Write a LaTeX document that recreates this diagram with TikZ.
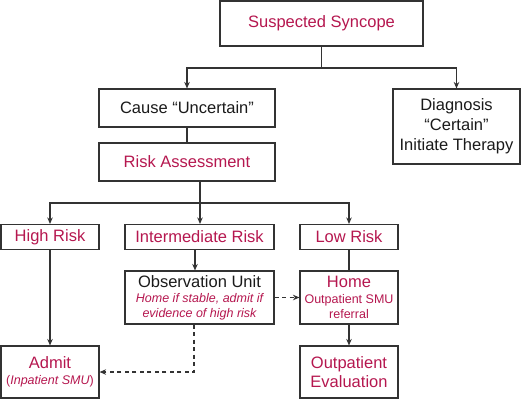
\documentclass[tikz,border=0pt]{standalone}
\usepackage{fontspec}
\setmainfont{Liberation Sans}
\usetikzlibrary{arrows.meta}
\definecolor{crim}{HTML}{B5174F}
\definecolor{lnc}{HTML}{333333}
\definecolor{txt}{HTML}{1A1A1A}
\begin{document}
\begin{tikzpicture}[x=1pt,y=-1pt,
  box/.style={draw=lnc, line width=1.1pt, inner sep=0pt, align=center,
    font=\fontsize{16.5}{20}\selectfont, text=txt},
  redtxt/.style={text=crim},
  conn/.style={draw=lnc, line width=1.1pt},
  arr/.style={conn, -{Stealth[length=6.5pt,width=5.5pt]}},
  dsh/.style={dash pattern=on 4pt off 3.5pt}
]
\useasboundingbox (0,0) rectangle (521,400);

\node[box, redtxt, minimum width=203pt, minimum height=45pt] (ss) at (321.5,23.5) {Suspected Syncope};
\node[box, minimum width=176pt, minimum height=38pt] (cu) at (187,108) {Cause “Uncertain”};
\node[box, redtxt, minimum width=176pt, minimum height=38pt] (ra) at (187,162) {Risk Assessment};
\node[box, minimum width=127pt, minimum height=75pt] (dx) at (456.5,126.5) {Diagnosis\\“Certain”\\Initiate Therapy};

\node[box, redtxt, minimum width=98pt, minimum height=25pt] (hr) at (50,237) {High Risk};
\node[box, redtxt, minimum width=149pt, minimum height=25pt] (ir) at (199.5,237) {Intermediate Risk};
\node[box, redtxt, minimum width=98pt, minimum height=25pt] (lr) at (349,237) {Low Risk};

\node[box, minimum width=149pt, minimum height=53pt, font=\fontsize{12.5}{15}\selectfont] (ou) at (199.5,297.5)
  {{\fontsize{16.5}{15}\selectfont Observation Unit}\\{\color{crim}\itshape Home if stable, admit if}\\{\color{crim}\itshape evidence of high risk}};
\node[box, redtxt, minimum width=98pt, minimum height=53pt, font=\fontsize{12.5}{15.5}\selectfont] (ho) at (349,297.5)
  {{\fontsize{16.5}{15}\selectfont Home}\\Outpatient SMU\\referral};

\node[box, redtxt, minimum width=98pt, minimum height=52pt, font=\fontsize{12.5}{16}\selectfont] (ad) at (50,372)
  {{\fontsize{16.5}{16}\selectfont Admit}\\(\textit{Inpatient SMU})};
\node[box, redtxt, minimum width=98pt, minimum height=52pt, font=\fontsize{16.5}{19}\selectfont] (oe) at (349,372)
  {Outpatient\\Evaluation};

\coordinate (j1) at (321.5,68);
\coordinate (j2) at (200,203);
\draw[conn] (ss.south) -- (j1);
\draw[arr] (j1) -| (cu.north);
\draw[arr] (j1) -| (dx.north);
\draw[conn] (cu.south) -- (ra.north);
\draw[conn] (ra.south -| j2) -- (j2);
\draw[arr] (j2) -| (hr.north);
\draw[arr] (j2) -- (ir.north -| j2);
\draw[arr] (j2) -| (lr.north);
\draw[arr] ([xshift=-4.5pt]ir.south) -- ([xshift=-4.5pt]ou.north);
\draw[conn] (lr.south) -- (ho.north);
\draw[arr] (ho.south) -- (oe.north);
\draw[arr] (hr.south) -- (ad.north);
\draw[arr, dsh] (ou.east) -- (ho.west);
\draw[arr, dsh] ([xshift=-5.5pt]ou.south) |- (ad.east);
\end{tikzpicture}
\end{document}
